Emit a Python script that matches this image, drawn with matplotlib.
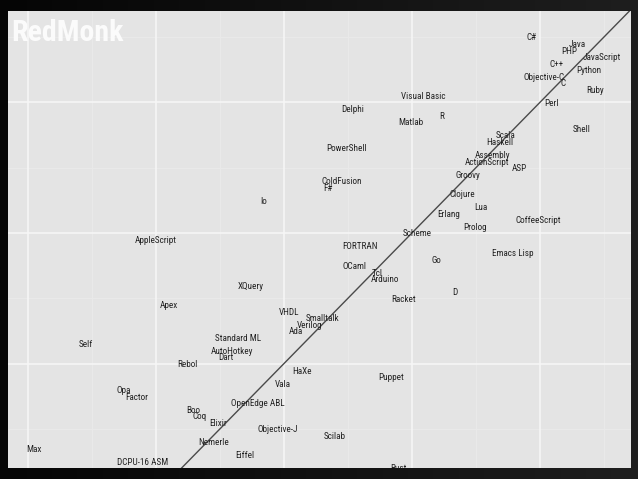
import numpy as np
import matplotlib
matplotlib.use("Agg")
import matplotlib.pyplot as plt
from matplotlib import font_manager as fm

# ---- data ----
languages = ["C#", "Java", "PHP", "JavaScript", "C++", "Python", "Objective-C", "C", "Ruby",
             "Visual Basic", "Perl", "Delphi", "R", "Matlab", "Shell", "Scala", "Haskell",
             "PowerShell", "Assembly", "ActionScript", "ASP", "Groovy", "ColdFusion", "F#",
             "Clojure", "Io", "Lua", "Erlang", "CoffeeScript", "Prolog", "Scheme", "AppleScript",
             "FORTRAN", "Emacs Lisp", "Go", "OCaml", "Tcl", "Arduino", "XQuery", "D", "Racket",
             "Apex", "VHDL", "Smalltalk", "Verilog", "Ada", "Standard ML", "Self", "AutoHotkey",
             "Dart", "Rebol", "HaXe", "Puppet", "Vala", "Opa", "Factor", "OpenEdge ABL", "Boo",
             "Coq", "Elixir", "Objective-J", "Scilab", "Nemerle", "Max", "Eiffel", "DCPU-16 ASM",
             "Rust"]
# horizontal rank (reversed axis: smaller = further right)
x_rank = [12.1, 5.1, 6.3, 1.2, 8.2, 3.2, 10.2, 7.3, 2.3,
          29.1, 9.1, 40.1, 26.2, 31.0, 4.3, 16.2, 17.1,
          41.0, 18.2, 19.1, 14.1, 22.1, 41.9, 44.0,
          23.0, 54.0, 20.1, 25.1, 11.2, 21.0, 30.1, 70.9,
          39.0, 15.1, 27.1, 39.9, 36.3, 35.1, 56.0, 24.1, 32.1,
          68.8, 50.1, 44.9, 46.8, 49.0, 58.0, 81.8, 59.0,
          59.9, 65.9, 48.0, 34.1, 51.0, 75.9, 73.8, 54.9, 65.1,
          64.0, 61.2, 51.9, 43.0, 61.9, 89.9, 56.9, 72.9,
          33.0]
# vertical rank (reversed axis)
y_rank = list(range(1, len(languages) + 1))

major_breaks = [10.85, 30.85, 50.85, 70.85, 90.85]
minor_breaks = [0.85, 20.85, 40.85, 60.85, 80.85]

# ---- fonts ----
def pick(fams):
    for f in fams:
        try:
            fm.findfont(fm.FontProperties(family=f), fallback_to_default=False)
            return f
        except Exception:
            pass
    return "DejaVu Sans"

label_font = pick(["Liberation Sans Narrow", "Roboto Condensed", "Open Sans Condensed",
                   "Noto Sans Condensed", "Liberation Sans"])
narrow = label_font != "Liberation Sans"

W, H = 638, 479
fig = plt.figure(figsize=(W / 100, H / 100), dpi=100)
fig.patch.set_facecolor("#111111")

# dark gradient background
bg = fig.add_axes([0, 0, 1, 1], zorder=0)
grad = np.linspace(0, 1, 256)[None, :]
bg.imshow(grad, aspect="auto", cmap=matplotlib.colors.LinearSegmentedColormap.from_list(
    "g", ["#050505", "#1e1e1e"]), extent=[0, 1, 0, 1])
bg.axis("off")

ax = fig.add_axes([8 / W, 1 - 468 / H, (631 - 8) / W, (468 - 11) / H], zorder=1)
ax.set_facecolor("#e4e4e4")
ax.set_xlim(93.98, -3.37)
ax.set_ylim(66.85, -3.13)

for v in minor_breaks:
    ax.axvline(v, color="#eaeaea", lw=0.6, zorder=1)
    ax.axhline(v, color="#eaeaea", lw=0.6, zorder=1)
for v in major_breaks:
    ax.axvline(v, color="#f7f7f7", lw=1.1, zorder=1)
    ax.axhline(v, color="#f7f7f7", lw=1.1, zorder=1)

ax.axline((0, 0), slope=1, color="#4a4a4a", lw=1.0, zorder=2)

fs = 6.6 if narrow else 6.4
for name, xv, yv in zip(languages, x_rank, y_rank):
    ax.text(xv, yv, name, ha="center", va="center", fontsize=fs,
            family=label_font, color="#222222", zorder=3, clip_on=True)

for s in ax.spines.values():
    s.set_visible(False)
ax.set_xticks([])
ax.set_yticks([])

fig.text(11 / W, 1 - 33 / H, "RedMonk", ha="left", va="center", color="#fbfbfb",
         fontsize=21.5 if narrow else 18.5, fontweight="bold", family=label_font, zorder=5)

fig.savefig("out.png", dpi=100, facecolor=fig.get_facecolor())
